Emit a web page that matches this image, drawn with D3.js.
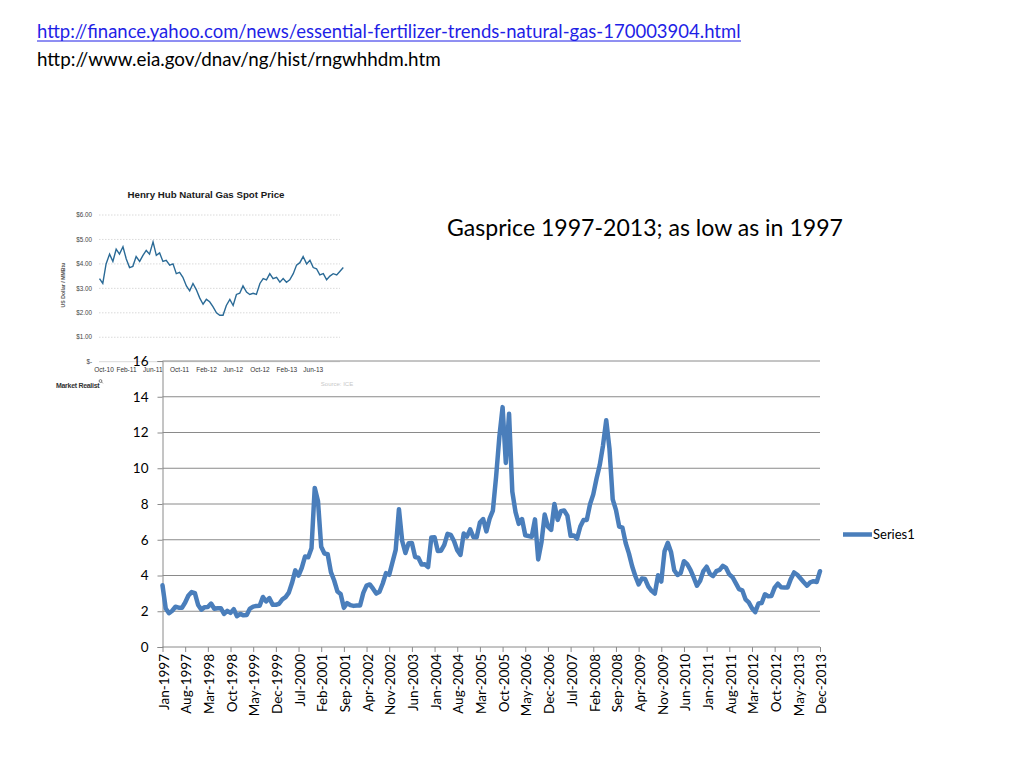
<!DOCTYPE html>
<html><head><meta charset="utf-8">
<script src="https://cdn.jsdelivr.net/npm/d3@7"></script>
<style>
body{margin:0;background:#fff}
svg{display:block}
.cal{font-family:Lato,"Open Sans",sans-serif}
.ar{font-family:"Liberation Sans",Arial,sans-serif}
</style>
</head><body>
<svg id="c" width="1024" height="768"></svg>
<script>
// ---------- DATA ----------
const links = [
  "http://finance.yahoo.com/news/essential-fertilizer-trends-natural-gas-170003904.html",
  "http://www.eia.gov/dnav/ng/hist/rngwhhdm.htm"
];
const titleText = "Gasprice 1997-2013; as low as in 1997";
const seriesName = "Series1";

// Monthly Henry Hub spot price ($/MMBtu), Jan 1997 – Dec 2013
const p1997 = [3.45,2.15,1.89,2.03,2.25,2.20,2.19,2.49,2.88,3.07,3.01,2.35];
const p1998 = [2.09,2.23,2.24,2.43,2.14,2.17,2.17,1.85,2.02,1.91,2.12,1.72];
const p1999 = [1.85,1.77,1.79,2.15,2.26,2.30,2.31,2.80,2.55,2.73,2.37,2.36];
const p2000 = [2.42,2.66,2.79,3.04,3.59,4.29,3.99,4.43,5.06,5.02,5.52,8.90];
const p2001 = [8.17,5.61,5.23,5.19,4.19,3.72,3.11,2.97,2.19,2.46,2.34,2.30];
const p2002 = [2.32,2.32,3.03,3.43,3.50,3.26,2.99,3.09,3.55,4.13,4.04,4.74];
const p2003 = [5.43,7.71,5.93,5.26,5.81,5.82,5.03,4.99,4.62,4.63,4.47,6.13];
const p2004 = [6.14,5.37,5.39,5.71,6.33,6.27,5.93,5.41,5.15,6.35,6.17,6.58];
const p2005 = [6.15,6.14,6.96,7.16,6.47,7.18,7.63,9.53,11.75,13.42,10.30,13.05];
const p2006 = [8.69,7.54,6.89,7.16,6.25,6.21,6.17,7.14,4.90,5.85,7.41,6.73];
const p2007 = [6.55,8.00,7.11,7.60,7.64,7.35,6.22,6.24,6.07,6.74,7.10,7.11];
const p2008 = [7.99,8.54,9.41,10.18,11.27,12.69,11.09,8.26,7.67,6.74,6.68,5.82];
const p2009 = [5.24,4.52,3.96,3.50,3.83,3.80,3.38,3.14,2.99,4.01,3.66,5.35];
const p2010 = [5.83,5.32,4.29,4.03,4.14,4.80,4.63,4.32,3.89,3.43,3.71,4.25];
const p2011 = [4.49,4.09,3.97,4.24,4.31,4.54,4.42,4.06,3.90,3.57,3.24,3.17];
const p2012 = [2.67,2.50,2.17,1.95,2.43,2.46,2.95,2.84,2.85,3.32,3.54,3.34];
const p2013 = [3.33,3.33,3.81,4.17,4.04,3.83,3.62,3.43,3.62,3.68,3.64,4.24];
const prices = [].concat(p1997,p1998,p1999,p2000,p2001,p2002,p2003,p2004,p2005,
  p2006,p2007,p2008,p2009,p2010,p2011,p2012,p2013);
const startMonth = new Date(1997,0,1);
const categories = prices.map((_,i)=>d3.timeMonth.offset(startMonth,i));
const xTickLabels = ["Jan-1997","Aug-1997","Mar-1998","Oct-1998","May-1999","Dec-1999",
  "Jul-2000","Feb-2001","Sep-2001","Apr-2002","Nov-2002","Jun-2003","Jan-2004","Aug-2004",
  "Mar-2005","Oct-2005","May-2006","Dec-2006","Jul-2007","Feb-2008","Sep-2008","Apr-2009",
  "Nov-2009","Jun-2010","Jan-2011","Aug-2011","Mar-2012","Oct-2012","May-2013","Dec-2013"];
const yTicks = [0,2,4,6,8,10,12,14,16];

// Inset picture: Henry Hub spot price, half-monthly readings Oct 2010 – Oct 2013
const hhTitle = "Henry Hub Natural Gas Spot Price";
const hhStart = new Date(2010,9,1);
const hhValues = [3.4,3.2,4.0,4.4,4.1,4.6,4.4,4.7,4.2,3.85,3.9,4.3,4.1,4.35,4.55,4.4,4.9,4.35,
  4.45,4.1,4.15,3.95,4.0,3.6,3.65,3.45,3.1,2.9,3.2,2.95,2.6,2.35,2.55,2.45,2.25,2.0,1.9,1.9,
  2.3,2.55,2.3,2.75,2.8,3.1,2.85,2.75,2.8,2.75,3.2,3.4,3.35,3.6,3.4,3.45,3.25,3.4,3.25,3.35,
  3.6,3.95,4.05,4.3,4.0,4.15,3.85,3.8,3.55,3.6,3.35,3.5,3.6,3.55,3.7,3.85];
const hhYTicks = [0,1,2,3,4,5,6];
const hhYLabels = ["$-","$1.00","$2.00","$3.00","$4.00","$5.00","$6.00"];
const hhXTickLabels = ["Oct-10","Feb-11","Jun-11","Oct-11","Feb-12","Jun-12","Oct-12","Feb-13","Jun-13"];

// ---------- DRAW ----------
const svg = d3.select("#c");
function fit(sel, w){
  const fs = parseFloat(sel.attr("font-size"));
  const cur = sel.node().getComputedTextLength();
  sel.attr("font-size", (fs*w/cur).toFixed(2));
}

// header links
const l1 = svg.append("text").attr("class","cal").attr("x",37).attr("y",38)
  .attr("font-size",18).attr("fill","#1f1fe6").text(links[0]);
fit(l1,704);
svg.append("line").attr("x1",37).attr("x2",741).attr("y1",41).attr("y2",41)
  .attr("stroke","#1f1fe6").attr("stroke-width",1);
const l2 = svg.append("text").attr("class","cal").attr("x",37).attr("y",66)
  .attr("font-size",18).attr("fill","#000").text(links[1]);
fit(l2,404);

// ---- inset picture ----
const hx = d3.scaleTime().domain([hhStart, d3.timeMonth.offset(hhStart,36)]).range([99.5,340]);
const hy = d3.scaleLinear().domain([0,6]).range([361.7,215]);
const inset = svg.append("g");
const ht = inset.append("text").attr("class","ar").attr("x",206).attr("y",198)
  .attr("text-anchor","middle").attr("font-weight","bold").attr("font-size",9).attr("fill","#1a1a1a").text(hhTitle);
fit(ht,157);
inset.selectAll("line.hg").data(hhYTicks.slice(1)).join("line").attr("class","hg")
  .attr("x1",99).attr("x2",340).attr("y1",d=>hy(d)).attr("y2",d=>hy(d))
  .attr("stroke","#d0d0d0").attr("stroke-width",0.8).attr("stroke-dasharray","1.5,1.5");
inset.append("line").attr("x1",99).attr("x2",340).attr("y1",hy(0)).attr("y2",hy(0))
  .attr("stroke","#cfcfcf").attr("stroke-width",0.8);
inset.selectAll("text.hyl").data(hhYTicks).join("text").attr("class","ar hyl")
  .attr("x",92).attr("y",d=>hy(d)+2.2).attr("text-anchor","end").attr("font-size",6.3)
  .attr("fill","#444").text((d,i)=>hhYLabels[i]);
inset.append("text").attr("class","ar").attr("transform","translate(64.5,285) rotate(-90)")
  .attr("text-anchor","middle").attr("font-size",5.2).attr("font-weight","bold").attr("fill","#555")
  .text("US Dollar / MMBtu");
inset.selectAll("text.hxl").data(hhXTickLabels).join("text").attr("class","ar hxl")
  .attr("x",(d,i)=>i===0?104:hx(d3.timeMonth.offset(hhStart,i*4)))
  .attr("y",372).attr("text-anchor","middle").attr("font-size",6.5).attr("fill","#333").text(d=>d);
const hhDates = hhValues.map((_,i)=>d3.timeDay.offset(hhStart, Math.round(i*365.25/24)));
inset.append("path").datum(hhValues)
  .attr("d", d3.line().x((d,i)=>hx(hhDates[i])).y(d=>hy(d)))
  .attr("fill","none").attr("stroke","#2a6a96").attr("stroke-width",1.4);
inset.append("text").attr("class","ar").attr("x",56).attr("y",388).attr("font-size",7)
  .attr("font-weight","bold").attr("fill","#333").attr("letter-spacing",-0.3).text("Market Realist");
inset.append("circle").attr("cx",100.5).attr("cy",381).attr("r",1.4).attr("fill","none").attr("stroke","#333").attr("stroke-width",0.6);
inset.append("line").attr("x1",101.5).attr("y1",382).attr("x2",102.8).attr("y2",383.3).attr("stroke","#333").attr("stroke-width",0.6);
inset.append("text").attr("class","ar").attr("x",337).attr("y",386).attr("text-anchor","middle")
  .attr("font-size",6).attr("fill","#c8c8c8").text("Source: ICE");

// ---- main chart ----
const x = d3.scalePoint().domain(d3.range(prices.length)).range([162.5,820]);
const y = d3.scaleLinear().domain([0,16]).range([647,361]);
const gridCol = "#8a8a8a";
const g = svg.append("g");
g.selectAll("line.grid").data(yTicks.slice(1)).join("line").attr("class","grid")
  .attr("x1",x(0)).attr("x2",820).attr("y1",d=>y(d)).attr("y2",d=>y(d))
  .attr("stroke",gridCol).attr("stroke-width",1);

const yAxis = g.append("g").attr("transform",`translate(${x(0)},0)`)
  .call(d3.axisLeft(y).tickValues(yTicks).tickSize(5).tickPadding(9));
yAxis.select(".domain").attr("stroke",gridCol);
yAxis.selectAll(".tick line").attr("stroke",gridCol);
yAxis.selectAll("text").attr("class","cal").attr("font-size",13.5).attr("fill","#000").attr("font-family",null);

const tickIdx = xTickLabels.map(l=>categories.findIndex(c=>d3.timeFormat("%b-%Y")(c)===l));
const xAxis = g.append("g").attr("transform",`translate(0,${y(0)})`)
  .call(d3.axisBottom(x).tickValues(tickIdx).tickSize(5).tickFormat(i=>d3.timeFormat("%b-%Y")(categories[i])));
xAxis.select(".domain").attr("stroke",gridCol).attr("d",`M${x(0)},0H820`);
xAxis.selectAll(".tick line").attr("stroke",gridCol);
xAxis.selectAll("text").attr("class","cal").attr("font-size",13.5).attr("fill","#000").attr("font-family",null)
  .attr("transform","rotate(-90)").attr("x",-7).attr("y",1).attr("dy","0.35em").style("text-anchor","end");

const lineCol = "#4a7ebb";
g.append("path").datum(prices)
  .attr("d", d3.line().x((d,i)=>x(i)).y(d=>y(d)))
  .attr("fill","none").attr("stroke",lineCol).attr("stroke-width",4.5)
  .attr("stroke-linejoin","round").attr("stroke-linecap","round");

// legend
svg.append("line").attr("x1",843).attr("x2",872).attr("y1",534.5).attr("y2",534.5)
  .attr("stroke",lineCol).attr("stroke-width",4.5);
svg.append("text").attr("class","cal").attr("x",873).attr("y",539).attr("font-size",13)
  .attr("fill","#000").text(seriesName);

// title
const tt = svg.append("text").attr("class","cal").attr("x",447).attr("y",236).attr("font-size",20)
  .attr("fill","#000").text(titleText);
fit(tt,396);
</script>
</body></html>
